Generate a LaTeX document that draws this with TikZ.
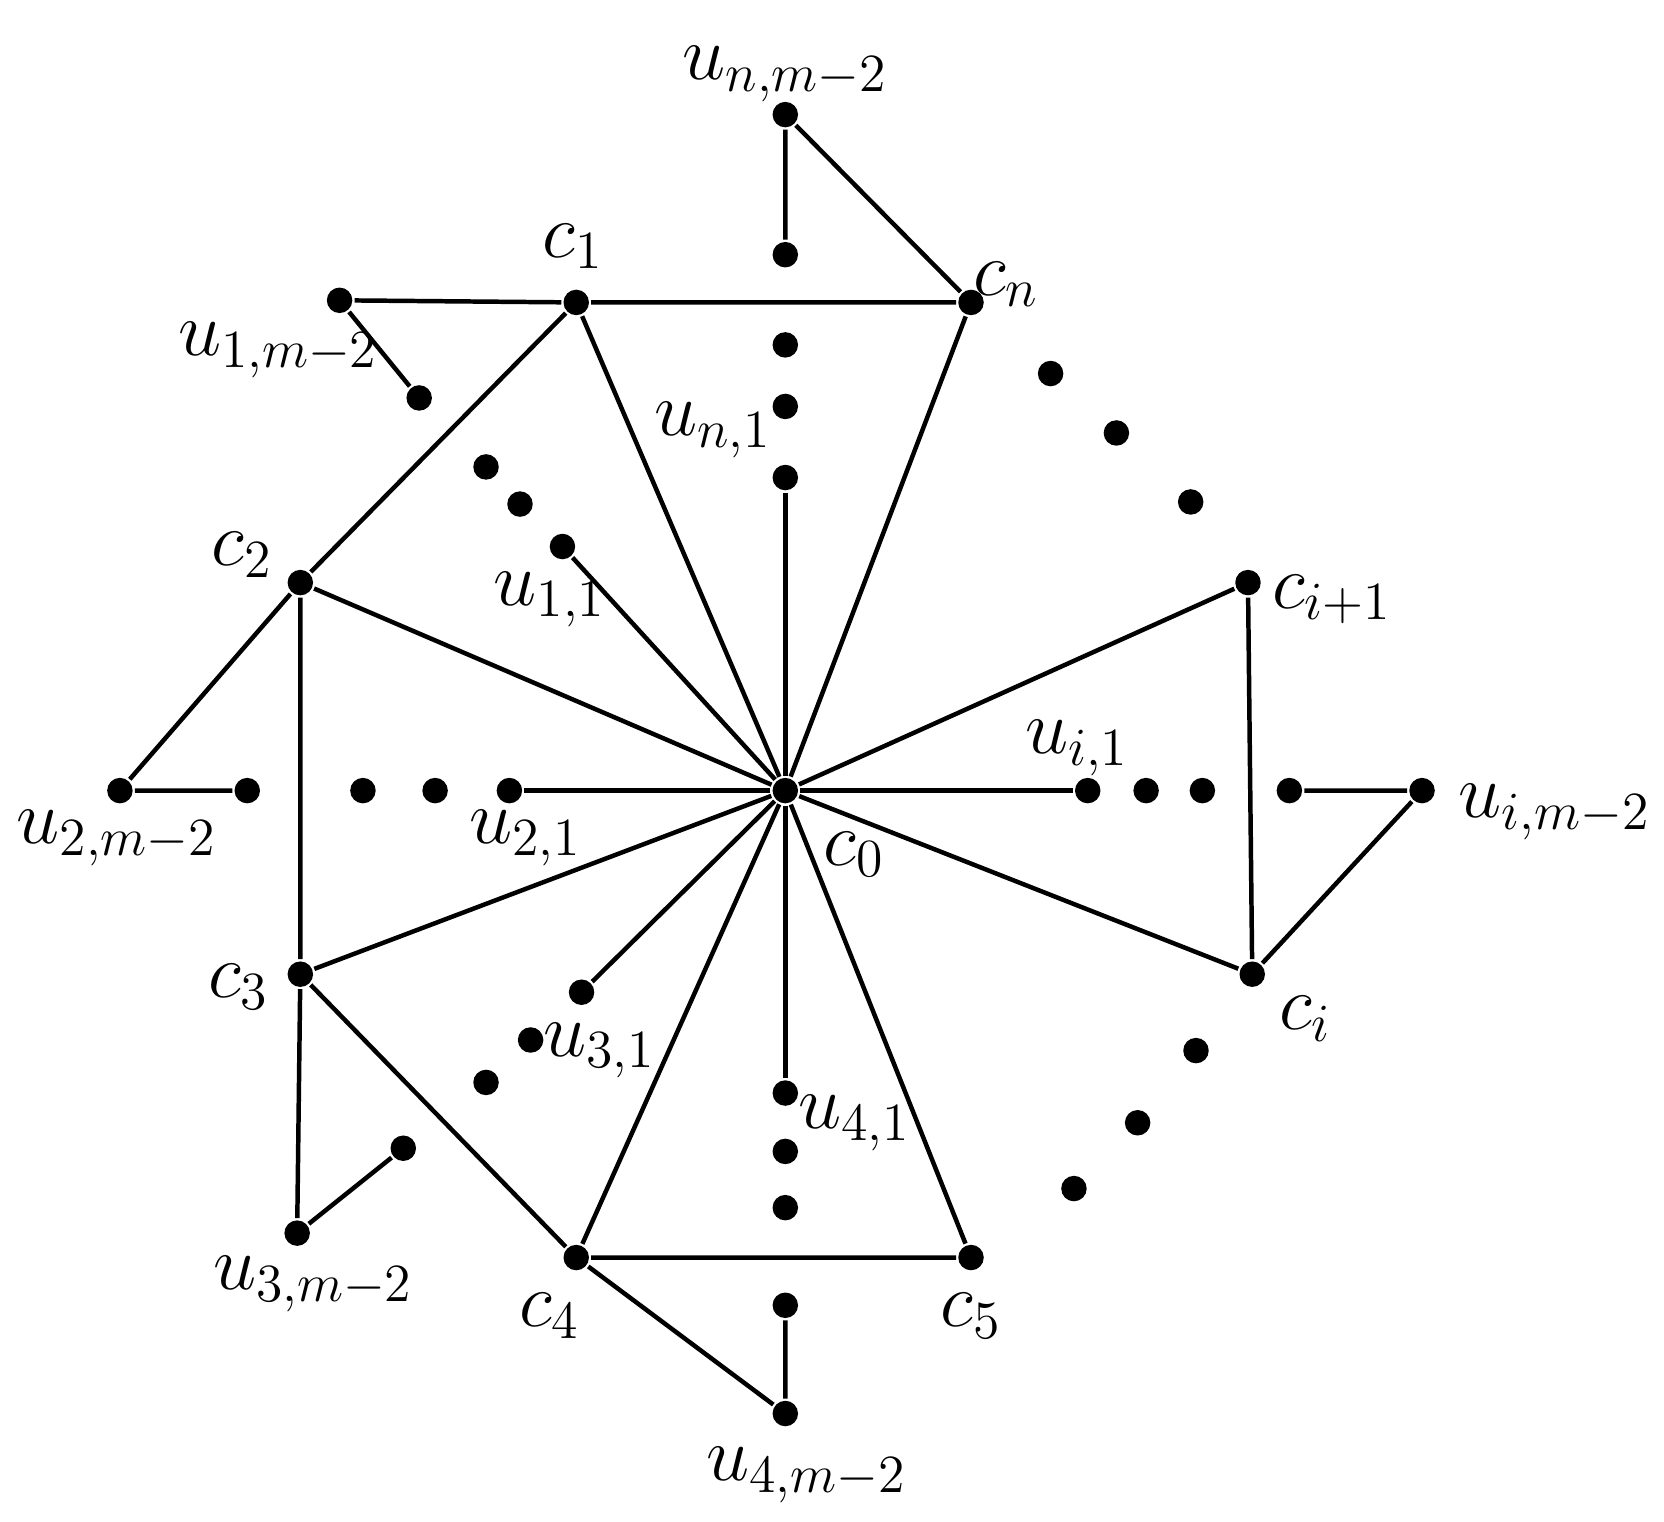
\documentclass[tikz,border=0pt]{standalone}
\begin{document}
\begin{tikzpicture}[x=0.01cm,y=-0.01cm,
  v/.style={circle,fill=black,inner sep=0pt,minimum size=0.24cm},
  lab/.style={font=\fontsize{22}{26}\selectfont},
  every path/.style={line width=1.2pt}]
\useasboundingbox (0,0) rectangle (1568,1434);
\foreach \n/\x/\y in {c0/740/745,c1/543/285,cn/915/285,c2/283/549,c3/283/918,c4/543/1185,c5/915/1185,ci/1180/918,cj/1176/549,
 unm/740/108,una/740/240,und1/740/325,und2/740/383,un1/740/450,
 u1m/320/283,u1a/395/375,u1d1/458/440,u1d2/490/475,u11/530/515,
 u2m/113/745,u2a/233/745,u2d1/342/745,u2d2/410/745,u21/480/745,
 u31/548/935,u3d1/500/980,u3d2/458/1020,u3m/280/1162,u3a/380/1082,
 u41/740/1030,u4d1/740/1085,u4d2/740/1138,u4a/740/1230,u4m/740/1332,
 ui1/1025/745,uid1/1080/745,uid2/1133/745,uia/1215/745,uim/1340/745,
 r1/990/352,r2/1052/408,r3/1122/473,s1/1127/990,s2/1072/1058,s3/1012/1120}
  \node[v] (\n) at (\x,\y) {};
\foreach \t in {c1,cn,c2,c3,c4,c5,ci,cj,u11,un1,u21,u31,u41,ui1} \draw (c0)--(\t);
\draw (c1)--(cn) (c1)--(c2)--(c3)--(c4)--(c5) (ci)--(cj);
\draw (unm)--(una) (unm)--(cn) (u1m)--(c1) (u1m)--(u1a) (c2)--(u2m)--(u2a)
  (c3)--(u3m)--(u3a) (c4)--(u4m)--(u4a) (uia)--(uim)--(ci);
\foreach \x/\y/\t in {540/232/c_1,948/268/c_n,740/70/u_{n,m-2},672/405/u_{n,1},262/330/u_{1,m-2},518/565/u_{1,1},
 228/523/c_2,110/790/u_{2,m-2},495/790/u_{2,1},225/930/c_3,565/990/u_{3,1},295/1210/u_{3,m-2},518/1240/c_4,
 805/1058/u_{4,1},760/1390/u_{4,m-2},915/1240/c_5,805/805/c_0,1230/960/c_i,1255/565/c_{i+1},1015/705/u_{i,1},1465/765/u_{i,m-2}}
  \node[lab] at (\x,\y) {$\t$};
\end{tikzpicture}
\end{document}
